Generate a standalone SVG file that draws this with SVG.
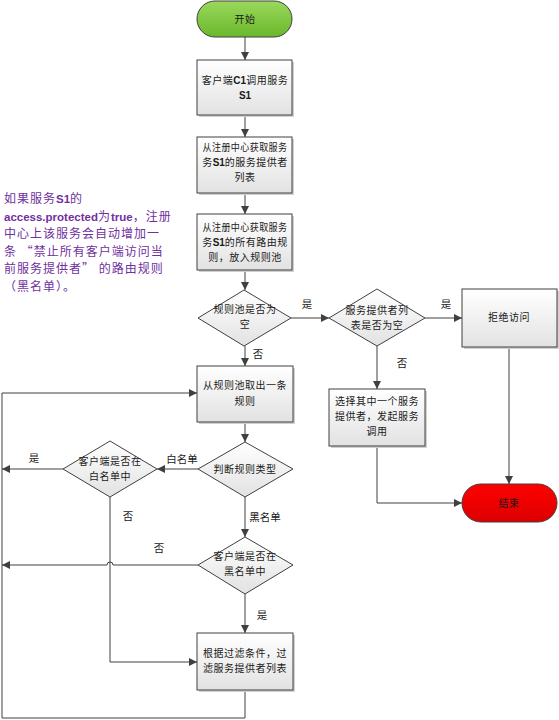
<svg xmlns="http://www.w3.org/2000/svg" width="559" height="720" viewBox="0 0 559 720">
<defs>
<linearGradient id="gBox" x1="0" y1="0" x2="0" y2="1">
<stop offset="0" stop-color="#ffffff"/><stop offset="1" stop-color="#e2e2e2"/>
</linearGradient>
<linearGradient id="gStart" x1="0" y1="0" x2="0" y2="1">
<stop offset="0" stop-color="#9bd85c"/><stop offset="1" stop-color="#6ab82c"/>
</linearGradient>
<linearGradient id="gEnd" x1="0" y1="0" x2="0" y2="1">
<stop offset="0" stop-color="#ff0000"/><stop offset="1" stop-color="#dc0000"/>
</linearGradient>
<marker id="arr" viewBox="0 0 10 10" refX="10" refY="5" markerWidth="8" markerHeight="8" markerUnits="userSpaceOnUse" orient="auto">
<path d="M0,0 L10,5 L0,10 Z" fill="#404040"/>
</marker>
<style>
.box{fill:url(#gBox);stroke:#404040;stroke-width:1}
.shadow{fill:#d0d0d0}
.t{font-family:"Noto Sans CJK SC","Liberation Sans",sans-serif;font-size:10px;letter-spacing:0.5px;fill:#1a1a1a;text-anchor:middle}
.lbl{font-family:"Noto Sans CJK SC","Liberation Sans",sans-serif;font-size:10.5px;fill:#1a1a1a;text-anchor:middle}
.c{fill:none;stroke:#404040;stroke-width:1}
.note{font-family:"Noto Sans CJK SC","Liberation Sans",sans-serif;font-size:12px;letter-spacing:1px;fill:#7030a0}
.b{font-family:"Liberation Sans",sans-serif;font-weight:bold;letter-spacing:0}
.nb{font-family:"Liberation Sans",sans-serif;font-weight:bold;font-size:11.5px;letter-spacing:0}
</style>
</defs>
<rect width="559" height="720" fill="#ffffff"/>

<g id="connectors">
<path class="c" d="M245,37 V60" marker-end="url(#arr)"/>
<path class="c" d="M245,115 V137" marker-end="url(#arr)"/>
<path class="c" d="M245,193 V214" marker-end="url(#arr)"/>
<path class="c" d="M245,270 V290" marker-end="url(#arr)"/>
<path class="c" d="M245,346 V366" marker-end="url(#arr)"/>
<path class="c" d="M245,422 V442" marker-end="url(#arr)"/>
<path class="c" d="M198,469 H157" marker-end="url(#arr)"/>
<path class="c" d="M63,469 H2" marker-end="url(#arr)"/>
<path class="c" d="M110,497 V662 H197" marker-end="url(#arr)"/>
<path class="c" d="M245,497 V537" marker-end="url(#arr)"/>
<path class="c" d="M198,565 H113 A3,3 0 0 0 107,565 H2" marker-end="url(#arr)"/>
<path class="c" d="M245,594 V633" marker-end="url(#arr)"/>
<path class="c" d="M245,690 V718 H2 V393 H197" marker-end="url(#arr)"/>
<path class="c" d="M291,318 H329" marker-end="url(#arr)"/>
<path class="c" d="M425,318 H462" marker-end="url(#arr)"/>
<path class="c" d="M377,346 V389" marker-end="url(#arr)"/>
<path class="c" d="M509,347 V484" marker-end="url(#arr)"/>
<path class="c" d="M377,446 V503 H462" marker-end="url(#arr)"/>
<text class="lbl" x="307" y="308">是</text>
<text class="lbl" x="446" y="308">是</text>
<text class="lbl" x="402" y="367">否</text>
<text class="lbl" x="258" y="358">否</text>
<text class="lbl" x="182" y="463">白名单</text>
<text class="lbl" x="34" y="462">是</text>
<text class="lbl" x="128" y="520">否</text>
<text class="lbl" x="265" y="521">黑名单</text>
<text class="lbl" x="159" y="552">否</text>
<text class="lbl" x="262" y="619">是</text>
</g>

<g id="start">
<rect x="197" y="1" width="95" height="36" rx="18" fill="url(#gStart)" stroke="#404040"/>
<text class="t" x="245" y="23">开始</text>
</g>

<g id="call">
<rect class="shadow" x="199" y="62" width="95" height="55"/>
<rect class="box" x="197" y="60" width="95" height="55"/>
<text class="t" x="245" y="84">客户端<tspan class="b">C1</tspan>调用服务</text>
<text class="t" x="245" y="99"><tspan class="b">S1</tspan></text>
</g>

<g id="getProviders">
<rect class="shadow" x="199" y="139" width="95" height="56"/>
<rect class="box" x="197" y="137" width="95" height="56"/>
<text class="t" x="245" y="151" textLength="85" lengthAdjust="spacingAndGlyphs">从注册中心获取服务</text>
<text class="t" x="245" y="166">务<tspan class="b">S1</tspan>的服务提供者</text>
<text class="t" x="245" y="181">列表</text>
</g>

<g id="getRules">
<rect class="shadow" x="199" y="216" width="95" height="56"/>
<rect class="box" x="197" y="214" width="95" height="56"/>
<text class="t" x="245" y="231" textLength="85" lengthAdjust="spacingAndGlyphs">从注册中心获取服务</text>
<text class="t" x="245" y="246">务<tspan class="b">S1</tspan>的所有路由规</text>
<text class="t" x="245" y="261">则，放入规则池</text>
</g>

<g id="poolEmpty">
<polygon class="box" points="244,290 291,318 244,346 198,318"/>
<text class="t" x="245" y="313">规则池是否为</text>
<text class="t" x="245" y="328">空</text>
</g>

<g id="providersEmpty">
<polygon class="box" points="377,289 425,318 377,346 329,318"/>
<text class="t" x="377" y="314">服务提供者列</text>
<text class="t" x="377" y="329">表是否为空</text>
</g>

<g id="reject">
<rect class="shadow" x="464" y="291" width="95" height="58"/>
<rect class="box" x="462" y="289" width="95" height="58"/>
<text class="t" x="509" y="321">拒绝访问</text>
</g>

<g id="select">
<rect class="shadow" x="331" y="391" width="96" height="57"/>
<rect class="box" x="329" y="389" width="96" height="57"/>
<text class="t" x="377" y="405">选择其中一个服务</text>
<text class="t" x="377" y="420">提供者，发起服务</text>
<text class="t" x="377" y="435">调用</text>
</g>

<g id="end">
<rect x="462" y="484" width="95" height="38" rx="19" fill="url(#gEnd)" stroke="#404040"/>
<text class="t" x="509" y="507">结束</text>
</g>

<g id="takeRule">
<rect class="shadow" x="199" y="368" width="96" height="56"/>
<rect class="box" x="197" y="366" width="96" height="56"/>
<text class="t" x="245" y="389">从规则池取出一条</text>
<text class="t" x="245" y="405">规则</text>
</g>

<g id="ruleType">
<polygon class="box" points="245,442 293,469 245,497 198,469"/>
<text class="t" x="245" y="473">判断规则类型</text>
</g>

<g id="inWhite">
<polygon class="box" points="110,441 157,469 110,497 63,469"/>
<text class="t" x="110" y="465">客户端是否在</text>
<text class="t" x="110" y="480">白名单中</text>
</g>

<g id="inBlack">
<polygon class="box" points="245,537 293,565 245,594 198,565"/>
<text class="t" x="245" y="560">客户端是否在</text>
<text class="t" x="245" y="575">黑名单中</text>
</g>

<g id="filter">
<rect class="shadow" x="199" y="635" width="96" height="57"/>
<rect class="box" x="197" y="633" width="96" height="57"/>
<text class="t" x="245" y="657">根据过滤条件，过</text>
<text class="t" x="245" y="672">滤服务提供者列表</text>
</g>

<g id="note">
<text class="note" x="4" y="203">如果服务<tspan class="nb">S1</tspan>的</text>
<text class="note" x="4" y="221"><tspan class="nb">access.protected</tspan>为<tspan class="nb">true</tspan>，注册</text>
<text class="note" x="4" y="238">中心上该服务会自动增加一</text>
<text class="note" x="4" y="256">条 “禁止所有客户端访问当</text>
<text class="note" x="4" y="273">前服务提供者” 的路由规则</text>
<text class="note" x="4" y="291">（黑名单）。</text>
</g>
</svg>
